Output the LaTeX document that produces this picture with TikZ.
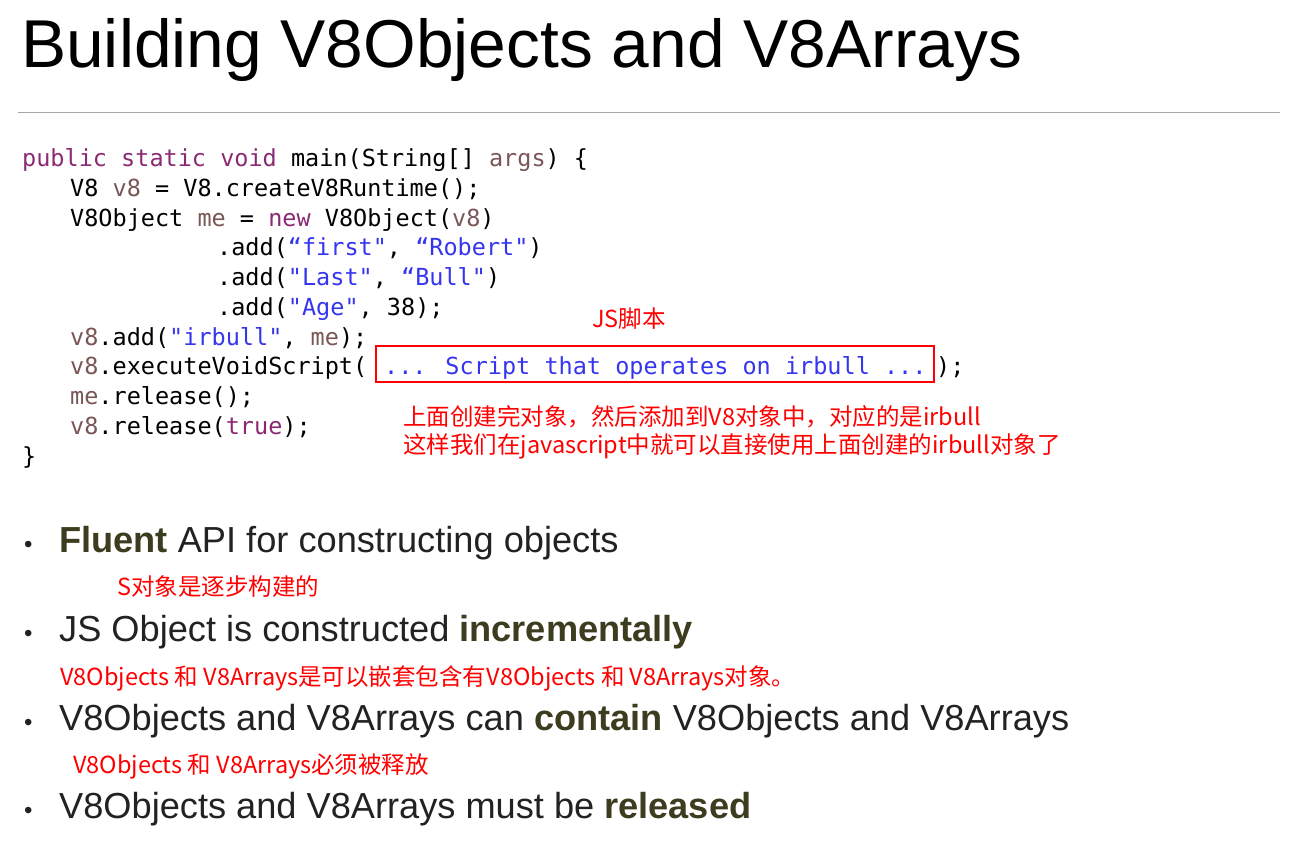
\documentclass[tikz,border=0pt]{standalone}
\usepackage{fontspec}
\setmainfont{Liberation Sans}
\newfontfamily\codefont{DejaVu Sans Mono}
\newfontfamily\cjk{Noto Sans CJK SC}
\definecolor{kw}{HTML}{8B2A73}
\definecolor{vr}{HTML}{7A5656}
\definecolor{st}{HTML}{3535EE}
\definecolor{ol}{HTML}{3C3C1E}
\definecolor{tx}{HTML}{222222}
\newcommand{\K}[1]{\textcolor{kw}{#1}}
\newcommand{\Vv}[1]{\textcolor{vr}{#1}}
\newcommand{\Ss}[1]{\textcolor{st}{#1}}
\newcommand{\Bb}[1]{\textcolor{ol}{\bfseries #1}}
\begin{document}
\begin{tikzpicture}[x=1pt,y=-1pt,
  every node/.style={inner sep=0pt,anchor=base west},
  code/.style={font=\codefont\fontsize{23.5}{26}\selectfont},
  note/.style={font=\cjk\fontsize{23.5}{26}\selectfont,text=red},
  bul/.style={font=\fontsize{36.2}{40}\selectfont,text=tx}]
\useasboundingbox (0,0) rectangle (1295,843);
\node[font=\fontsize{67.7}{70}\selectfont] (title) at (21,67) {Building V8Objects and V8Arrays};
\draw[gray!70,line width=1pt] (18,112) -- (1280,112);
\node[code] (c1) at (22,166) {\K{public static void} main(String[] \Vv{args}) \{};
\node[code] (c2) at (70,196) {V8 \Vv{v8} = V8.createV8Runtime();};
\node[code] (c3) at (70,226) {V8Object \Vv{me} = \K{new} V8Object(\Vv{v8})};
\node[code] (c4) at (217,255) {.add(\Ss{“first"}, \Ss{“Robert"})};
\node[code] (c5) at (217,285) {.add(\Ss{"Last"}, \Ss{“Bull"})};
\node[code] (c6) at (217,315) {.add(\Ss{"Age"}, 38);};
\node[code] (c7) at (70,345) {\Vv{v8}.add(\Ss{"irbull"}, \Vv{me});};
\node[code] (c8) at (70,374) {\Vv{v8}.executeVoidScript(};
\node[code] (c8b) at (384,374) {\Ss{... Script that operates on irbull ...}};
\node[code] (c8c) at (936,374) {);};
\node[code] (c9) at (70,404) {\Vv{me}.release();};
\node[code] (c10) at (70,434) {\Vv{v8}.release(\K{true});};
\node[code] (c11) at (22,464) {\}};
\draw[red,line width=2.8pt] (376,346) rectangle (934,382);
\node[note] (n0) at (592,327) {JS脚本};
\node[note] (n1) at (403,425) {上面创建完对象，然后添加到V8对象中，对应的是irbull};
\node[note] (n2) at (403,453) {这样我们在javascript中就可以直接使用上面创建的irbull对象了};
\node[bul] (b1) at (24,552) {\fontsize{24}{26}\selectfont•};
\node[bul] (t1) at (59,552) {\Bb{Fluent} API for constructing objects};
\node[note] (n3) at (117,595) {S对象是逐步构建的};
\node[bul] (b2) at (24,641) {\fontsize{24}{26}\selectfont•};
\node[bul] (t2) at (59,641) {JS Object is constructed \Bb{incrementally}};
\node[note] (n4) at (60,685) {V8Objects 和 V8Arrays是可以嵌套包含有V8Objects 和 V8Arrays对象。};
\node[bul] (b3) at (24,730) {\fontsize{24}{26}\selectfont•};
\node[bul] (t3) at (59,730) {V8Objects and V8Arrays can \Bb{contain} V8Objects and V8Arrays};
\node[note] (n5) at (73,773) {V8Objects 和 V8Arrays必须被释放};
\node[bul] (b4) at (24,818) {\fontsize{24}{26}\selectfont•};
\node[bul] (t4) at (59,818) {V8Objects and V8Arrays must be \Bb{released}};
\end{tikzpicture}
\end{document}
